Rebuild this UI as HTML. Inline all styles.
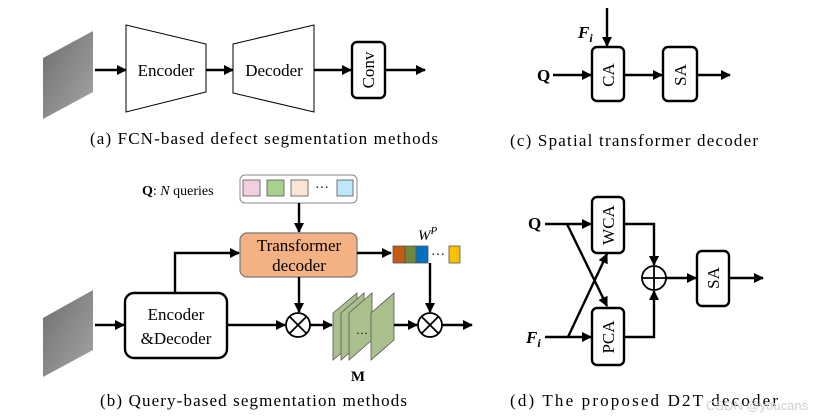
<!DOCTYPE html>
<html><head><meta charset="utf-8"><style>
html,body{margin:0;padding:0;background:#fff;}
svg{display:block;font-family:"Liberation Serif",serif;}
</style></head><body>
<svg width="828" height="420" viewBox="0 0 828 420" xmlns="http://www.w3.org/2000/svg">
<defs>
<marker id="ah" viewBox="0 0 10 10" refX="9" refY="5" markerWidth="4.2" markerHeight="4.2" orient="auto" markerUnits="strokeWidth"><path d="M0,0 L10,5 L0,10 z" fill="#000"/></marker>
<linearGradient id="img" x1="0" y1="0" x2="1" y2="1"><stop offset="0" stop-color="#6e6e6e"/><stop offset="0.5" stop-color="#8a8a8a"/><stop offset="1" stop-color="#a5a5a5"/></linearGradient>
</defs>
<g stroke="#000" stroke-width="2.4" fill="none">
<polygon points="43,58 93,31 93,92 43,119" fill="url(#img)" stroke="none"/>
<line x1="95" y1="70" x2="126" y2="70" marker-end="url(#ah)"/>
<polygon points="126,25 206,44 206,92 126,112" fill="#fff" stroke-width="1"/>
<line x1="206" y1="70" x2="233" y2="70" marker-end="url(#ah)"/>
<polygon points="233,44 314,25 314,112 233,93" fill="#fff" stroke-width="1"/>
<line x1="314" y1="70" x2="351" y2="70" marker-end="url(#ah)"/>
<rect x="352" y="42" width="33" height="56" rx="5" fill="#fff"/>
<line x1="385" y1="70" x2="425" y2="70" marker-end="url(#ah)"/>
<line x1="607" y1="8" x2="607" y2="46" marker-end="url(#ah)"/>
<line x1="553" y1="75" x2="591" y2="75" marker-end="url(#ah)"/>
<rect x="592" y="47" width="32" height="54" rx="5" fill="#fff"/>
<line x1="624" y1="75" x2="662" y2="75" marker-end="url(#ah)"/>
<rect x="663" y="47" width="34" height="54" rx="5" fill="#fff"/>
<line x1="697" y1="75" x2="730" y2="75" marker-end="url(#ah)"/>
<rect x="240" y="175" width="117" height="28" rx="5" fill="#fff" stroke="#888" stroke-width="1"/>
<line x1="299" y1="203" x2="299" y2="232" marker-end="url(#ah)"/>
<rect x="240" y="233" width="117" height="44" rx="7" fill="#f4b183" stroke="#777" stroke-width="1.2"/>
<line x1="357" y1="253" x2="391" y2="253" marker-end="url(#ah)"/>
<polyline points="175,293 175,253 239,253" marker-end="url(#ah)"/>
<polygon points="43,318 93,290 93,350 43,377" fill="url(#img)" stroke="none"/>
<line x1="95" y1="325" x2="124" y2="325" marker-end="url(#ah)"/>
<rect x="125" y="293" width="102" height="65" rx="9" fill="#fff"/>
<line x1="227" y1="325" x2="285" y2="325" marker-end="url(#ah)"/>
<line x1="299" y1="277" x2="299" y2="312" marker-end="url(#ah)"/>
<circle cx="298" cy="325" r="12" fill="#fff" stroke-width="1.8"/>
<line x1="290" y1="317" x2="306" y2="333" stroke-width="1.8"/><line x1="306" y1="317" x2="290" y2="333" stroke-width="1.8"/>
<line x1="310" y1="325" x2="332" y2="325" marker-end="url(#ah)"/>
<g fill="#a9c08c" stroke="#555" stroke-width="0.8">
<polygon points="333,313 357,293 357,340 333,360"/>
<polygon points="341,313 364,293 364,340 341,360"/>
<polygon points="349,313 372,293 372,340 349,360"/>
<polygon points="371,313 394,293 394,340 371,360"/>
</g>
<line x1="394" y1="325" x2="417" y2="325" marker-end="url(#ah)"/>
<line x1="430" y1="263" x2="430" y2="312" marker-end="url(#ah)"/>
<circle cx="430" cy="325" r="12" fill="#fff" stroke-width="1.8"/>
<line x1="422" y1="317" x2="438" y2="333" stroke-width="1.8"/><line x1="438" y1="317" x2="422" y2="333" stroke-width="1.8"/>
<line x1="442" y1="325" x2="472" y2="325" marker-end="url(#ah)"/>
<line x1="545" y1="224" x2="591" y2="224" marker-end="url(#ah)"/>
<line x1="545" y1="337" x2="591" y2="337" marker-end="url(#ah)"/>
<line x1="567" y1="224" x2="607" y2="306" marker-end="url(#ah)"/>
<line x1="568" y1="337" x2="607" y2="254" marker-end="url(#ah)"/>
<rect x="592" y="197" width="32" height="56" rx="5" fill="#fff"/>
<rect x="592" y="308" width="32" height="57" rx="5" fill="#fff"/>
<polyline points="624,224 654,224 654,265" marker-end="url(#ah)"/>
<polyline points="624,337 654,337 654,291" marker-end="url(#ah)"/>
<circle cx="654" cy="278" r="12" fill="#fff" stroke-width="1.8"/>
<line x1="642" y1="278" x2="666" y2="278" stroke-width="1.8"/><line x1="654" y1="266" x2="654" y2="290" stroke-width="1.8"/>
<line x1="666" y1="278" x2="696" y2="278" marker-end="url(#ah)"/>
<rect x="697" y="251" width="32" height="55" rx="5" fill="#fff"/>
<line x1="729" y1="278" x2="763" y2="278" marker-end="url(#ah)"/>
</g>
<g stroke="#555" stroke-width="0.8">
<rect x="243" y="180" width="17" height="16" fill="#f2cfdf"/>
<rect x="267" y="180" width="17" height="16" fill="#a9d18e"/>
<rect x="291" y="180" width="17" height="16" fill="#fbe5d6"/>
<rect x="337" y="180" width="16" height="16" fill="#bde7fb"/>
<rect x="393" y="246" width="12" height="17" fill="#c55a11"/>
<rect x="405" y="246" width="11" height="17" fill="#70883a"/>
<rect x="416" y="246" width="12" height="17" fill="#0070c0"/>
<rect x="449" y="246" width="11" height="17" fill="#ffc000"/>
</g>
<g font-size="17" fill="#000">
<text x="166" y="76" text-anchor="middle">Encoder</text>
<text x="274" y="76" text-anchor="middle">Decoder</text>
<text transform="translate(374,70) rotate(-90)" text-anchor="middle">Conv</text>
<text x="90" y="144" textLength="348" lengthAdjust="spacing">(a) FCN-based defect segmentation methods</text>
<text x="578" y="38" font-weight="bold" font-style="italic">F<tspan font-size="12" dy="4">i</tspan></text>
<text x="537" y="81" font-weight="bold">Q</text>
<text transform="translate(614,75) rotate(-90)" text-anchor="middle">CA</text>
<text transform="translate(686,75) rotate(-90)" text-anchor="middle">SA</text>
<text x="510" y="146" textLength="248" lengthAdjust="spacing">(c)  Spatial transformer decoder</text>
<text x="142" y="195" font-size="14"><tspan font-weight="bold">Q</tspan>: <tspan font-style="italic">N</tspan> queries</text>
<text x="315" y="192" font-size="14">···</text>
<text x="299" y="251" text-anchor="middle">Transformer</text>
<text x="299" y="271" text-anchor="middle">decoder</text>
<text x="418" y="240" font-size="15" font-style="italic">W<tspan font-size="11" dy="-6">P</tspan></text>
<text x="431" y="259" font-size="14">···</text>
<text x="176" y="320" text-anchor="middle">Encoder</text>
<text x="176" y="344" text-anchor="middle">&amp;Decoder</text>
<text x="356" y="337" font-size="12">···</text>
<text x="358" y="381" text-anchor="middle" font-weight="bold" font-size="15">M</text>
<text x="100" y="406" textLength="307" lengthAdjust="spacing">(b) Query-based segmentation methods</text>
<text x="528" y="229" font-weight="bold">Q</text>
<text x="526" y="343" font-weight="bold" font-style="italic">F<tspan font-size="12" dy="4">i</tspan></text>
<text transform="translate(614,225) rotate(-90)" text-anchor="middle">WCA</text>
<text transform="translate(614,337) rotate(-90)" text-anchor="middle">PCA</text>
<text transform="translate(719,278) rotate(-90)" text-anchor="middle">SA</text>
<text x="510" y="406" textLength="268" lengthAdjust="spacing">(d)   The proposed D2T decoder</text>
</g>
<text x="706" y="410" font-family="Liberation Sans,sans-serif" font-size="13" fill="#d0d0d0">CSDN @youcans</text>
</svg>
</body></html>
